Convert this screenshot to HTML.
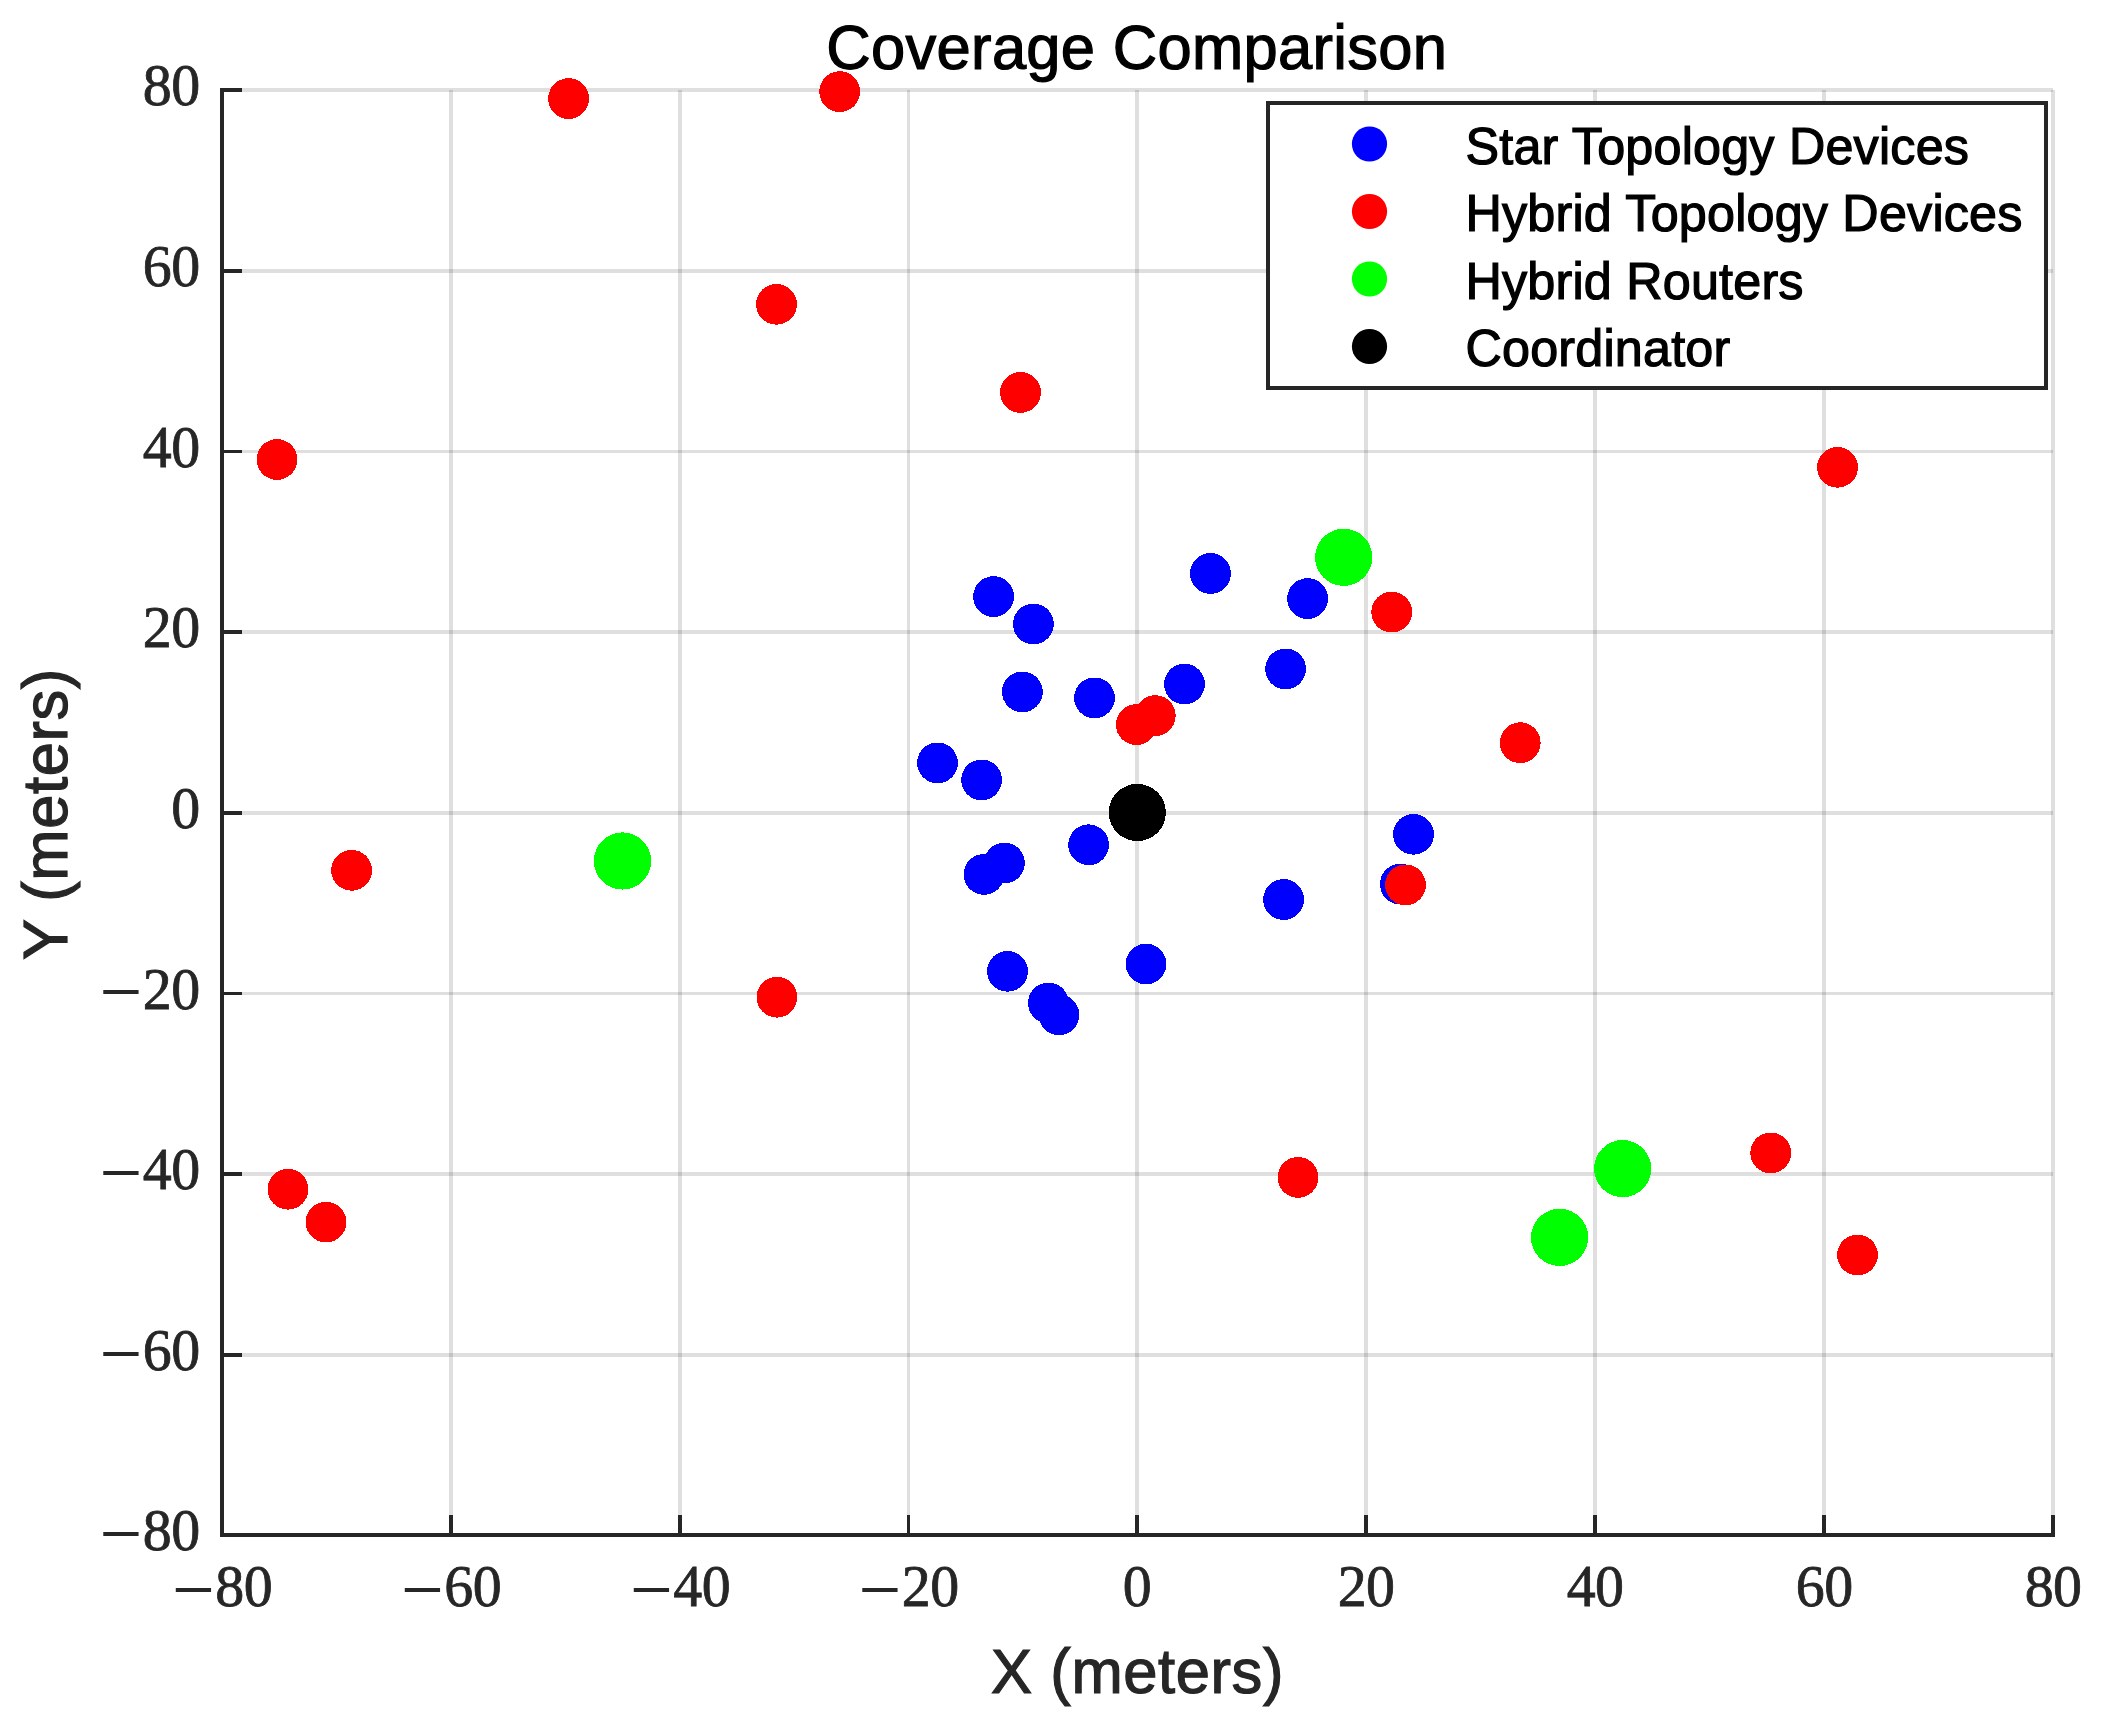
<!DOCTYPE html>
<html lang="en"><head><meta charset="utf-8"><title>Coverage Comparison</title>
<style>html,body{margin:0;padding:0;background:#fff}svg{display:block}.s{font-family:"Liberation Sans",sans-serif}.t{font-family:"Liberation Serif","DejaVu Serif",serif;fill:#262626;stroke:#262626;stroke-width:0.8}</style></head><body>
<svg width="2106" height="1724" viewBox="0 0 2106 1724">
<rect width="2106" height="1724" fill="#fff"/>
<g stroke="rgba(38,38,38,0.15)" fill="none" shape-rendering="crispEdges">
<line x1="451" y1="90" x2="451" y2="1515" stroke-width="4"/>
<line x1="680" y1="90" x2="680" y2="1515" stroke-width="4"/>
<line x1="908.5" y1="90" x2="908.5" y2="1515" stroke-width="3"/>
<line x1="1137" y1="90" x2="1137" y2="1515" stroke-width="4"/>
<line x1="1366" y1="90" x2="1366" y2="1515" stroke-width="4"/>
<line x1="1595" y1="90" x2="1595" y2="1515" stroke-width="4"/>
<line x1="1824" y1="90" x2="1824" y2="1515" stroke-width="4"/>
<line x1="2053" y1="90" x2="2053" y2="1515" stroke-width="4"/>
<line x1="242" y1="1355" x2="2053" y2="1355" stroke-width="4"/>
<line x1="242" y1="1174" x2="2053" y2="1174" stroke-width="4"/>
<line x1="242" y1="993.5" x2="2053" y2="993.5" stroke-width="3"/>
<line x1="242" y1="813" x2="2053" y2="813" stroke-width="4"/>
<line x1="242" y1="632" x2="2053" y2="632" stroke-width="4"/>
<line x1="242" y1="451.5" x2="2053" y2="451.5" stroke-width="3"/>
<line x1="242" y1="271" x2="2053" y2="271" stroke-width="4"/>
<line x1="242" y1="90" x2="2053" y2="90" stroke-width="4"/>
</g>
<g stroke="#262626" fill="none" stroke-linecap="butt" shape-rendering="crispEdges">
<polyline points="222,88 222,1535 2055,1535" stroke-width="4" stroke-linejoin="miter"/>
<line x1="451" y1="1535" x2="451" y2="1515" stroke-width="4"/>
<line x1="680" y1="1535" x2="680" y2="1515" stroke-width="4"/>
<line x1="908.5" y1="1535" x2="908.5" y2="1515" stroke-width="3"/>
<line x1="1137" y1="1535" x2="1137" y2="1515" stroke-width="4"/>
<line x1="1366" y1="1535" x2="1366" y2="1515" stroke-width="4"/>
<line x1="1595" y1="1535" x2="1595" y2="1515" stroke-width="4"/>
<line x1="1824" y1="1535" x2="1824" y2="1515" stroke-width="4"/>
<line x1="2053" y1="1535" x2="2053" y2="1515" stroke-width="4"/>
<line x1="222" y1="1355" x2="242" y2="1355" stroke-width="4"/>
<line x1="222" y1="1174" x2="242" y2="1174" stroke-width="4"/>
<line x1="222" y1="993.5" x2="242" y2="993.5" stroke-width="3"/>
<line x1="222" y1="813" x2="242" y2="813" stroke-width="4"/>
<line x1="222" y1="632" x2="242" y2="632" stroke-width="4"/>
<line x1="222" y1="451.5" x2="242" y2="451.5" stroke-width="3"/>
<line x1="222" y1="271" x2="242" y2="271" stroke-width="4"/>
<line x1="222" y1="90" x2="242" y2="90" stroke-width="4"/>
</g>
<g fill="#0000ff" shape-rendering="crispEdges">
<circle cx="993.6" cy="596.6" r="20.4"/>
<circle cx="1033.4" cy="624.0" r="20.4"/>
<circle cx="1210.5" cy="573.5" r="20.4"/>
<circle cx="1307.6" cy="598.6" r="20.4"/>
<circle cx="1285.6" cy="668.9" r="20.4"/>
<circle cx="1184.5" cy="684.1" r="20.4"/>
<circle cx="1022.4" cy="691.9" r="20.4"/>
<circle cx="1094.5" cy="697.9" r="20.4"/>
<circle cx="937.5" cy="762.9" r="20.4"/>
<circle cx="981.6" cy="779.9" r="20.4"/>
<circle cx="1088.6" cy="844.8" r="20.4"/>
<circle cx="1004.4" cy="863.0" r="20.4"/>
<circle cx="984.0" cy="874.4" r="20.4"/>
<circle cx="1413.5" cy="834.3" r="20.4"/>
<circle cx="1400.4" cy="884.1" r="20.4"/>
<circle cx="1283.6" cy="899.5" r="20.4"/>
<circle cx="1146.0" cy="964.0" r="20.4"/>
<circle cx="1007.5" cy="971.3" r="20.4"/>
<circle cx="1048.4" cy="1003.0" r="20.4"/>
<circle cx="1058.9" cy="1014.8" r="20.4"/>
</g>
<g fill="#ff0000" shape-rendering="crispEdges">
<circle cx="568.6" cy="98.6" r="20.4"/>
<circle cx="839.7" cy="91.6" r="20.4"/>
<circle cx="776.5" cy="304.3" r="20.4"/>
<circle cx="1020.5" cy="392.4" r="20.4"/>
<circle cx="277.0" cy="459.5" r="20.4"/>
<circle cx="351.6" cy="870.3" r="20.4"/>
<circle cx="1837.5" cy="467.3" r="20.4"/>
<circle cx="1520.2" cy="742.7" r="20.4"/>
<circle cx="776.9" cy="997.2" r="20.4"/>
<circle cx="288.0" cy="1189.2" r="20.4"/>
<circle cx="326.0" cy="1222.1" r="20.4"/>
<circle cx="1298.0" cy="1177.4" r="20.4"/>
<circle cx="1770.7" cy="1152.9" r="20.4"/>
<circle cx="1857.5" cy="1255.0" r="20.4"/>
<circle cx="1391.7" cy="612.1" r="20.4"/>
<circle cx="1155.3" cy="715.6" r="20.4"/>
<circle cx="1136.3" cy="724.6" r="20.4"/>
<circle cx="1405.5" cy="884.9" r="20.4"/>
</g>
<g fill="#00ff00" shape-rendering="crispEdges">
<circle cx="1343.7" cy="557.3" r="28.6"/>
<circle cx="622.5" cy="861.0" r="28.6"/>
<circle cx="1622.7" cy="1168.6" r="28.6"/>
<circle cx="1559.6" cy="1237.4" r="28.6"/>
</g>
<g fill="#000000" shape-rendering="crispEdges">
<circle cx="1137.3" cy="812.5" r="28.6"/>
</g>
<text class="t" transform="scale(0.965,1)" font-size="60.0"><tspan x="103.2" y="1559.6" font-size="78.5" stroke="none">−</tspan><tspan x="147.9 177.4" y="1550.2">80</tspan></text>
<text class="t" transform="scale(0.965,1)" font-size="60.0"><tspan x="178.3" y="1615.9" font-size="78.5" stroke="none">−</tspan><tspan x="223.1 252.5" y="1606.5">80</tspan></text>
<text class="t" transform="scale(0.965,1)" font-size="60.0"><tspan x="103.2" y="1379.6" font-size="78.5" stroke="none">−</tspan><tspan x="147.9 177.4" y="1370.2">60</tspan></text>
<text class="t" transform="scale(0.965,1)" font-size="60.0"><tspan x="415.6" y="1615.9" font-size="78.5" stroke="none">−</tspan><tspan x="460.4 489.8" y="1606.5">60</tspan></text>
<text class="t" transform="scale(0.965,1)" font-size="60.0"><tspan x="103.2" y="1198.6" font-size="78.5" stroke="none">−</tspan><tspan x="147.9 177.4" y="1189.2">40</tspan></text>
<text class="t" transform="scale(0.965,1)" font-size="60.0"><tspan x="652.9" y="1615.9" font-size="78.5" stroke="none">−</tspan><tspan x="697.7 727.1" y="1606.5">40</tspan></text>
<text class="t" transform="scale(0.965,1)" font-size="60.0"><tspan x="103.2" y="1018.1" font-size="78.5" stroke="none">−</tspan><tspan x="147.9 177.4" y="1008.7">20</tspan></text>
<text class="t" transform="scale(0.965,1)" font-size="60.0"><tspan x="889.7" y="1615.9" font-size="78.5" stroke="none">−</tspan><tspan x="934.4 963.9" y="1606.5">20</tspan></text>
<text class="t" transform="scale(0.965,1)" font-size="60.0"><tspan x="177.4" y="828.2">0</tspan></text>
<text class="t" transform="scale(0.965,1)" font-size="60.0"><tspan x="1163.6" y="1606.5">0</tspan></text>
<text class="t" transform="scale(0.965,1)" font-size="60.0"><tspan x="147.9 177.4" y="647.2">20</tspan></text>
<text class="t" transform="scale(0.965,1)" font-size="60.0"><tspan x="1386.2 1415.6" y="1606.5">20</tspan></text>
<text class="t" transform="scale(0.965,1)" font-size="60.0"><tspan x="147.9 177.4" y="466.7">40</tspan></text>
<text class="t" transform="scale(0.965,1)" font-size="60.0"><tspan x="1623.5 1652.9" y="1606.5">40</tspan></text>
<text class="t" transform="scale(0.965,1)" font-size="60.0"><tspan x="147.9 177.4" y="286.2">60</tspan></text>
<text class="t" transform="scale(0.965,1)" font-size="60.0"><tspan x="1860.8 1890.3" y="1606.5">60</tspan></text>
<text class="t" transform="scale(0.965,1)" font-size="60.0"><tspan x="147.9 177.4" y="105.2">80</tspan></text>
<text class="t" transform="scale(0.965,1)" font-size="60.0"><tspan x="2098.1 2127.6" y="1606.5">80</tspan></text>
<text class="s" transform="translate(1136.8,68.8) scale(1,1.012)" font-size="61.5" letter-spacing="0.3" text-anchor="middle" fill="#000" stroke="#000" stroke-width="1.2">Coverage Comparison</text>
<text class="s" transform="translate(1137.5,1692.8) scale(1,1.012)" font-size="61.5" letter-spacing="0.6" text-anchor="middle" fill="#262626" stroke="#262626" stroke-width="1.2">X (meters)</text>
<text class="s" transform="translate(67,814) rotate(-90) scale(1,1.012)" font-size="61.5" letter-spacing="0.6" text-anchor="middle" fill="#262626" stroke="#262626" stroke-width="1.2">Y (meters)</text>
<rect x="1268" y="103" width="778" height="285" fill="#fff" stroke="#262626" stroke-width="4" shape-rendering="crispEdges"/>
<circle cx="1369.5" cy="144" r="17.6" fill="#0000ff"/>
<text class="s" transform="translate(1465.5,163.5) scale(1,1.012)" font-size="50.3" letter-spacing="0.2" text-anchor="start" fill="#000" stroke="#000" stroke-width="1.2">Star Topology Devices</text>
<circle cx="1369.5" cy="211.5" r="17.6" fill="#ff0000"/>
<text class="s" transform="translate(1465.5,231) scale(1,1.012)" font-size="50.3" letter-spacing="0.2" text-anchor="start" fill="#000" stroke="#000" stroke-width="1.2">Hybrid Topology Devices</text>
<circle cx="1369.5" cy="279" r="17.6" fill="#00ff00"/>
<text class="s" transform="translate(1465.5,298.5) scale(1,1.012)" font-size="50.3" letter-spacing="0.2" text-anchor="start" fill="#000" stroke="#000" stroke-width="1.2">Hybrid Routers</text>
<circle cx="1369.5" cy="346.5" r="17.6" fill="#000000"/>
<text class="s" transform="translate(1465.5,366) scale(1,1.012)" font-size="50.3" letter-spacing="0.2" text-anchor="start" fill="#000" stroke="#000" stroke-width="1.2">Coordinator</text>
</svg></body></html>
